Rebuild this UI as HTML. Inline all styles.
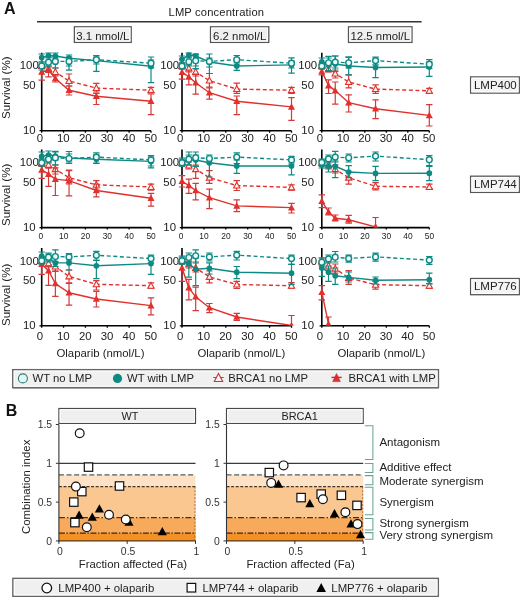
<!DOCTYPE html>
<html><head><meta charset="utf-8"><style>
html,body{margin:0;padding:0;background:#fff;}
svg{display:block;}
text{font-family:"Liberation Sans", Arial, sans-serif;}
</style></head><body>
<svg width="520" height="597" viewBox="0 0 520 597">
<rect width="520" height="597" fill="#fff"/>
<text x="4" y="14.4" font-size="16" font-weight="bold" fill="#111">A</text>
<text x="216.35" y="15.8" font-size="11.2" letter-spacing="0.15" text-anchor="middle" fill="#222">LMP concentration</text>
<line x1="37" y1="21.8" x2="421.6" y2="21.8" stroke="#333" stroke-width="1.4"/>
<rect x="74.4" y="26.8" width="56.80" height="15.60" fill="#efefef" stroke="#555" stroke-width="1.3"/>
<rect x="75.65" y="28.05" width="54.30" height="13.10" fill="none" stroke="#fff" stroke-width="1"/>
<text x="102.80" y="39.5" font-size="11.4" text-anchor="middle" fill="#222">3.1 nmol/L</text>
<rect x="210.5" y="26.8" width="58.30" height="15.60" fill="#efefef" stroke="#555" stroke-width="1.3"/>
<rect x="211.75" y="28.05" width="55.80" height="13.10" fill="none" stroke="#fff" stroke-width="1"/>
<text x="239.65" y="39.5" font-size="11.4" text-anchor="middle" fill="#222">6.2 nmol/L</text>
<rect x="348.5" y="26.8" width="63.50" height="15.60" fill="#efefef" stroke="#555" stroke-width="1.3"/>
<rect x="349.75" y="28.05" width="61.00" height="13.10" fill="none" stroke="#fff" stroke-width="1"/>
<text x="380.25" y="39.5" font-size="11.4" text-anchor="middle" fill="#222">12.5 nmol/L</text>
<rect x="470.6" y="76.9" width="48.70" height="16.20" fill="#f4f4f4" stroke="#555" stroke-width="1.3"/>
<rect x="471.85" y="78.15" width="46.20" height="13.70" fill="none" stroke="#fff" stroke-width="1"/>
<text x="495.35" y="88.80" font-size="11.5" text-anchor="middle" fill="#222">LMP400</text>
<rect x="470.6" y="176.2" width="48.70" height="16.20" fill="#f4f4f4" stroke="#555" stroke-width="1.3"/>
<rect x="471.85" y="177.45" width="46.20" height="13.70" fill="none" stroke="#fff" stroke-width="1"/>
<text x="495.35" y="188.10" font-size="11.5" text-anchor="middle" fill="#222">LMP744</text>
<rect x="470.6" y="278.5" width="48.70" height="16.20" fill="#f4f4f4" stroke="#555" stroke-width="1.3"/>
<rect x="471.85" y="279.75" width="46.20" height="13.70" fill="none" stroke="#fff" stroke-width="1"/>
<text x="495.35" y="290.40" font-size="11.5" text-anchor="middle" fill="#222">LMP776</text>
<clipPath id="cp00"><rect x="35.7" y="46.7" width="121.3" height="83.99999999999999"/></clipPath>
<path d="M41.70,52.70V130.70H151.00" stroke="#000" stroke-width="1.6" fill="none"/>
<path d="M41.70,130.70v2M63.56,130.70v2M85.42,130.70v2M107.28,130.70v2M129.14,130.70v2M151.00,130.70v2" stroke="#000" stroke-width="1.3"/>
<path d="M39.50,65.20h2.2M39.50,130.70h2.2" stroke="#000" stroke-width="1.2"/>
<text x="29.30" y="69.20" font-size="11.4" text-anchor="middle" fill="#222">100</text>
<text x="29.30" y="88.92" font-size="11.4" text-anchor="middle" fill="#222">50</text>
<text x="29.30" y="134.10" font-size="11.4" text-anchor="middle" fill="#222">10</text>
<text x="39.80" y="141.70" font-size="11.4" text-anchor="middle" fill="#222">0</text>
<text x="63.36" y="141.70" font-size="11.4" text-anchor="middle" fill="#222">10</text>
<text x="85.22" y="141.70" font-size="11.4" text-anchor="middle" fill="#222">20</text>
<text x="107.08" y="141.70" font-size="11.4" text-anchor="middle" fill="#222">30</text>
<text x="128.94" y="141.70" font-size="11.4" text-anchor="middle" fill="#222">40</text>
<text x="150.80" y="141.70" font-size="11.4" text-anchor="middle" fill="#222">50</text>
<g clip-path="url(#cp00)">
<polyline points="41.70,66.00 48.53,69.00 55.36,72.00 69.03,81.00 96.35,88.10 151.00,90.20" fill="none" stroke="#e2302c" stroke-width="1.4" stroke-dasharray="4,2.6"/>
<path d="M41.70,64.00V68.00M38.50,64.00H44.90M38.50,68.00H44.90" stroke="#d23a3a" stroke-width="1.2" fill="none"/>
<path d="M48.53,66.00V72.00M45.33,66.00H51.73M45.33,72.00H51.73" stroke="#d23a3a" stroke-width="1.2" fill="none"/>
<path d="M55.36,68.00V76.00M52.16,68.00H58.56M52.16,76.00H58.56" stroke="#d23a3a" stroke-width="1.2" fill="none"/>
<path d="M69.03,74.00V86.00M65.83,74.00H72.23M65.83,86.00H72.23" stroke="#d23a3a" stroke-width="1.2" fill="none"/>
<path d="M96.35,83.40V92.00M93.15,83.40H99.55M93.15,92.00H99.55" stroke="#d23a3a" stroke-width="1.2" fill="none"/>
<path d="M151.00,87.40V92.60M147.80,87.40H154.20M147.80,92.60H154.20" stroke="#d23a3a" stroke-width="1.2" fill="none"/>
<polygon points="41.70,62.70 44.84,68.47 38.57,68.47" fill="#fff4f0" stroke="#e2302c" stroke-width="1.1"/>
<polygon points="48.53,65.70 51.67,71.47 45.40,71.47" fill="#fff4f0" stroke="#e2302c" stroke-width="1.1"/>
<polygon points="55.36,68.70 58.50,74.47 52.23,74.47" fill="#fff4f0" stroke="#e2302c" stroke-width="1.1"/>
<polygon points="69.03,77.70 72.16,83.47 65.89,83.47" fill="#fff4f0" stroke="#e2302c" stroke-width="1.1"/>
<polygon points="96.35,84.80 99.48,90.57 93.21,90.57" fill="#fff4f0" stroke="#e2302c" stroke-width="1.1"/>
<polygon points="151.00,86.90 154.13,92.67 147.87,92.67" fill="#fff4f0" stroke="#e2302c" stroke-width="1.1"/>
<polyline points="41.70,72.00 48.53,70.20 55.36,78.50 69.03,90.30 96.35,96.20 151.00,101.20" fill="none" stroke="#e2302c" stroke-width="1.4"/>
<path d="M41.70,66.00V80.20M38.50,66.00H44.90M38.50,80.20H44.90" stroke="#d23a3a" stroke-width="1.2" fill="none"/>
<path d="M48.53,66.00V76.90M45.33,66.00H51.73M45.33,76.90H51.73" stroke="#d23a3a" stroke-width="1.2" fill="none"/>
<path d="M55.36,75.00V82.00M52.16,75.00H58.56M52.16,82.00H58.56" stroke="#d23a3a" stroke-width="1.2" fill="none"/>
<path d="M69.03,86.00V95.00M65.83,86.00H72.23M65.83,95.00H72.23" stroke="#d23a3a" stroke-width="1.2" fill="none"/>
<path d="M96.35,93.40V104.50M93.15,93.40H99.55M93.15,104.50H99.55" stroke="#d23a3a" stroke-width="1.2" fill="none"/>
<path d="M151.00,94.00V114.70M147.80,94.00H154.20M147.80,114.70H154.20" stroke="#d23a3a" stroke-width="1.2" fill="none"/>
<polygon points="41.70,68.30 45.22,74.78 38.19,74.78" fill="#e2302c"/>
<polygon points="48.53,66.50 52.05,72.98 45.02,72.98" fill="#e2302c"/>
<polygon points="55.36,74.80 58.88,81.28 51.85,81.28" fill="#e2302c"/>
<polygon points="69.03,86.60 72.54,93.08 65.51,93.08" fill="#e2302c"/>
<polygon points="96.35,92.50 99.86,98.98 92.83,98.98" fill="#e2302c"/>
<polygon points="151.00,97.50 154.51,103.98 147.49,103.98" fill="#e2302c"/>
<polyline points="41.70,57.60 48.53,55.50 55.36,56.00 69.03,58.20 96.35,60.60 151.00,66.30" fill="none" stroke="#0e8a84" stroke-width="1.4"/>
<path d="M41.70,54.00V62.00M38.50,54.00H44.90M38.50,62.00H44.90" stroke="#0e8a84" stroke-width="1.2" fill="none"/>
<path d="M48.53,53.00V58.00M45.33,53.00H51.73M45.33,58.00H51.73" stroke="#0e8a84" stroke-width="1.2" fill="none"/>
<path d="M55.36,53.00V58.00M52.16,53.00H58.56M52.16,58.00H58.56" stroke="#0e8a84" stroke-width="1.2" fill="none"/>
<path d="M69.03,55.00V70.20M65.83,55.00H72.23M65.83,70.20H72.23" stroke="#0e8a84" stroke-width="1.2" fill="none"/>
<path d="M96.35,57.00V71.30M93.15,57.00H99.55M93.15,71.30H99.55" stroke="#0e8a84" stroke-width="1.2" fill="none"/>
<path d="M151.00,60.00V82.70M147.80,60.00H154.20M147.80,82.70H154.20" stroke="#0e8a84" stroke-width="1.2" fill="none"/>
<circle cx="41.70" cy="57.60" r="2.85" fill="#0e8a84"/>
<circle cx="48.53" cy="55.50" r="2.85" fill="#0e8a84"/>
<circle cx="55.36" cy="56.00" r="2.85" fill="#0e8a84"/>
<circle cx="69.03" cy="58.20" r="2.85" fill="#0e8a84"/>
<circle cx="96.35" cy="60.60" r="2.85" fill="#0e8a84"/>
<circle cx="151.00" cy="66.30" r="2.85" fill="#0e8a84"/>
<polyline points="41.70,66.00 48.53,62.20 55.36,61.40 69.03,61.40 96.35,59.70 151.00,63.20" fill="none" stroke="#0e8a84" stroke-width="1.4" stroke-dasharray="4,2.6"/>
<path d="M41.70,62.00V70.00M38.50,62.00H44.90M38.50,70.00H44.90" stroke="#0e8a84" stroke-width="1.2" fill="none"/>
<path d="M48.53,57.00V67.00M45.33,57.00H51.73M45.33,67.00H51.73" stroke="#0e8a84" stroke-width="1.2" fill="none"/>
<path d="M55.36,56.00V68.00M52.16,56.00H58.56M52.16,68.00H58.56" stroke="#0e8a84" stroke-width="1.2" fill="none"/>
<path d="M69.03,57.00V66.00M65.83,57.00H72.23M65.83,66.00H72.23" stroke="#0e8a84" stroke-width="1.2" fill="none"/>
<path d="M96.35,55.50V64.00M93.15,55.50H99.55M93.15,64.00H99.55" stroke="#0e8a84" stroke-width="1.2" fill="none"/>
<path d="M151.00,57.00V68.00M147.80,57.00H154.20M147.80,68.00H154.20" stroke="#0e8a84" stroke-width="1.2" fill="none"/>
<circle cx="41.70" cy="66.00" r="2.9" fill="#eefbfa" stroke="#0e8a84" stroke-width="1.4"/>
<circle cx="48.53" cy="62.20" r="2.9" fill="#eefbfa" stroke="#0e8a84" stroke-width="1.4"/>
<circle cx="55.36" cy="61.40" r="2.9" fill="#eefbfa" stroke="#0e8a84" stroke-width="1.4"/>
<circle cx="69.03" cy="61.40" r="2.9" fill="#eefbfa" stroke="#0e8a84" stroke-width="1.4"/>
<circle cx="96.35" cy="59.70" r="2.9" fill="#eefbfa" stroke="#0e8a84" stroke-width="1.4"/>
<circle cx="151.00" cy="63.20" r="2.9" fill="#eefbfa" stroke="#0e8a84" stroke-width="1.4"/>
</g>
<clipPath id="cp01"><rect x="176.0" y="46.7" width="121.5" height="83.99999999999999"/></clipPath>
<path d="M182.00,52.70V130.70H291.50" stroke="#000" stroke-width="1.6" fill="none"/>
<path d="M182.00,130.70v2M203.90,130.70v2M225.80,130.70v2M247.70,130.70v2M269.60,130.70v2M291.50,130.70v2" stroke="#000" stroke-width="1.3"/>
<path d="M179.80,65.20h2.2M179.80,130.70h2.2" stroke="#000" stroke-width="1.2"/>
<text x="169.70" y="69.20" font-size="11.4" text-anchor="middle" fill="#222">100</text>
<text x="169.70" y="88.92" font-size="11.4" text-anchor="middle" fill="#222">50</text>
<text x="169.70" y="134.10" font-size="11.4" text-anchor="middle" fill="#222">10</text>
<text x="180.10" y="141.70" font-size="11.4" text-anchor="middle" fill="#222">0</text>
<text x="203.70" y="141.70" font-size="11.4" text-anchor="middle" fill="#222">10</text>
<text x="225.60" y="141.70" font-size="11.4" text-anchor="middle" fill="#222">20</text>
<text x="247.50" y="141.70" font-size="11.4" text-anchor="middle" fill="#222">30</text>
<text x="269.40" y="141.70" font-size="11.4" text-anchor="middle" fill="#222">40</text>
<text x="291.30" y="141.70" font-size="11.4" text-anchor="middle" fill="#222">50</text>
<g clip-path="url(#cp01)">
<polyline points="182.00,66.00 188.84,68.50 195.69,72.10 209.38,80.60 236.75,89.10 291.50,90.20" fill="none" stroke="#e2302c" stroke-width="1.4" stroke-dasharray="4,2.6"/>
<path d="M182.00,63.00V69.00M178.80,63.00H185.20M178.80,69.00H185.20" stroke="#d23a3a" stroke-width="1.2" fill="none"/>
<path d="M188.84,65.00V72.00M185.64,65.00H192.04M185.64,72.00H192.04" stroke="#d23a3a" stroke-width="1.2" fill="none"/>
<path d="M195.69,69.00V76.00M192.49,69.00H198.89M192.49,76.00H198.89" stroke="#d23a3a" stroke-width="1.2" fill="none"/>
<path d="M209.38,73.50V87.80M206.18,73.50H212.57M206.18,87.80H212.57" stroke="#d23a3a" stroke-width="1.2" fill="none"/>
<path d="M236.75,83.10V93.40M233.55,83.10H239.95M233.55,93.40H239.95" stroke="#d23a3a" stroke-width="1.2" fill="none"/>
<path d="M291.50,87.40V93.40M288.30,87.40H294.70M288.30,93.40H294.70" stroke="#d23a3a" stroke-width="1.2" fill="none"/>
<polygon points="182.00,62.70 185.13,68.47 178.87,68.47" fill="#fff4f0" stroke="#e2302c" stroke-width="1.1"/>
<polygon points="188.84,65.20 191.98,70.97 185.71,70.97" fill="#fff4f0" stroke="#e2302c" stroke-width="1.1"/>
<polygon points="195.69,68.80 198.82,74.57 192.55,74.57" fill="#fff4f0" stroke="#e2302c" stroke-width="1.1"/>
<polygon points="209.38,77.30 212.51,83.07 206.24,83.07" fill="#fff4f0" stroke="#e2302c" stroke-width="1.1"/>
<polygon points="236.75,85.80 239.88,91.57 233.62,91.57" fill="#fff4f0" stroke="#e2302c" stroke-width="1.1"/>
<polygon points="291.50,86.90 294.63,92.67 288.37,92.67" fill="#fff4f0" stroke="#e2302c" stroke-width="1.1"/>
<polyline points="182.00,72.10 188.84,77.00 195.69,82.80 209.38,92.70 236.75,101.20 291.50,106.90" fill="none" stroke="#e2302c" stroke-width="1.4"/>
<path d="M182.00,68.00V79.20M178.80,68.00H185.20M178.80,79.20H185.20" stroke="#d23a3a" stroke-width="1.2" fill="none"/>
<path d="M188.84,70.00V84.90M185.64,70.00H192.04M185.64,84.90H192.04" stroke="#d23a3a" stroke-width="1.2" fill="none"/>
<path d="M195.69,74.00V94.20M192.49,74.00H198.89M192.49,94.20H198.89" stroke="#d23a3a" stroke-width="1.2" fill="none"/>
<path d="M209.38,87.00V99.20M206.18,87.00H212.57M206.18,99.20H212.57" stroke="#d23a3a" stroke-width="1.2" fill="none"/>
<path d="M236.75,96.00V114.70M233.55,96.00H239.95M233.55,114.70H239.95" stroke="#d23a3a" stroke-width="1.2" fill="none"/>
<path d="M291.50,97.60V120.40M288.30,97.60H294.70M288.30,120.40H294.70" stroke="#d23a3a" stroke-width="1.2" fill="none"/>
<polygon points="182.00,68.40 185.51,74.88 178.49,74.88" fill="#e2302c"/>
<polygon points="188.84,73.30 192.36,79.78 185.33,79.78" fill="#e2302c"/>
<polygon points="195.69,79.10 199.20,85.58 192.17,85.58" fill="#e2302c"/>
<polygon points="209.38,89.00 212.89,95.48 205.86,95.48" fill="#e2302c"/>
<polygon points="236.75,97.50 240.26,103.98 233.24,103.98" fill="#e2302c"/>
<polygon points="291.50,103.20 295.01,109.68 287.99,109.68" fill="#e2302c"/>
<polyline points="182.00,59.30 188.84,55.00 195.69,56.00 209.38,62.00 236.75,66.00 291.50,64.90" fill="none" stroke="#0e8a84" stroke-width="1.4"/>
<path d="M182.00,56.00V63.00M178.80,56.00H185.20M178.80,63.00H185.20" stroke="#0e8a84" stroke-width="1.2" fill="none"/>
<path d="M188.84,53.00V58.00M185.64,53.00H192.04M185.64,58.00H192.04" stroke="#0e8a84" stroke-width="1.2" fill="none"/>
<path d="M195.69,54.00V68.50M192.49,54.00H198.89M192.49,68.50H198.89" stroke="#0e8a84" stroke-width="1.2" fill="none"/>
<path d="M209.38,58.00V73.50M206.18,58.00H212.57M206.18,73.50H212.57" stroke="#0e8a84" stroke-width="1.2" fill="none"/>
<path d="M236.75,62.00V70.30M233.55,62.00H239.95M233.55,70.30H239.95" stroke="#0e8a84" stroke-width="1.2" fill="none"/>
<path d="M291.50,61.00V73.20M288.30,61.00H294.70M288.30,73.20H294.70" stroke="#0e8a84" stroke-width="1.2" fill="none"/>
<circle cx="182.00" cy="59.30" r="2.85" fill="#0e8a84"/>
<circle cx="188.84" cy="55.00" r="2.85" fill="#0e8a84"/>
<circle cx="195.69" cy="56.00" r="2.85" fill="#0e8a84"/>
<circle cx="209.38" cy="62.00" r="2.85" fill="#0e8a84"/>
<circle cx="236.75" cy="66.00" r="2.85" fill="#0e8a84"/>
<circle cx="291.50" cy="64.90" r="2.85" fill="#0e8a84"/>
<polyline points="182.00,66.10 188.84,61.80 195.69,60.70 209.38,61.40 236.75,59.70 291.50,63.20" fill="none" stroke="#0e8a84" stroke-width="1.4" stroke-dasharray="4,2.6"/>
<path d="M182.00,63.00V69.00M178.80,63.00H185.20M178.80,69.00H185.20" stroke="#0e8a84" stroke-width="1.2" fill="none"/>
<path d="M188.84,57.00V66.00M185.64,57.00H192.04M185.64,66.00H192.04" stroke="#0e8a84" stroke-width="1.2" fill="none"/>
<path d="M195.69,54.30V66.00M192.49,54.30H198.89M192.49,66.00H198.89" stroke="#0e8a84" stroke-width="1.2" fill="none"/>
<path d="M209.38,54.00V67.00M206.18,54.00H212.57M206.18,67.00H212.57" stroke="#0e8a84" stroke-width="1.2" fill="none"/>
<path d="M236.75,55.50V64.00M233.55,55.50H239.95M233.55,64.00H239.95" stroke="#0e8a84" stroke-width="1.2" fill="none"/>
<path d="M291.50,57.80V68.00M288.30,57.80H294.70M288.30,68.00H294.70" stroke="#0e8a84" stroke-width="1.2" fill="none"/>
<circle cx="182.00" cy="66.10" r="2.9" fill="#eefbfa" stroke="#0e8a84" stroke-width="1.4"/>
<circle cx="188.84" cy="61.80" r="2.9" fill="#eefbfa" stroke="#0e8a84" stroke-width="1.4"/>
<circle cx="195.69" cy="60.70" r="2.9" fill="#eefbfa" stroke="#0e8a84" stroke-width="1.4"/>
<circle cx="209.38" cy="61.40" r="2.9" fill="#eefbfa" stroke="#0e8a84" stroke-width="1.4"/>
<circle cx="236.75" cy="59.70" r="2.9" fill="#eefbfa" stroke="#0e8a84" stroke-width="1.4"/>
<circle cx="291.50" cy="63.20" r="2.9" fill="#eefbfa" stroke="#0e8a84" stroke-width="1.4"/>
</g>
<clipPath id="cp02"><rect x="315.8" y="46.7" width="119.5" height="83.99999999999999"/></clipPath>
<path d="M321.80,52.70V130.70H429.30" stroke="#000" stroke-width="1.6" fill="none"/>
<path d="M321.80,130.70v2M343.30,130.70v2M364.80,130.70v2M386.30,130.70v2M407.80,130.70v2M429.30,130.70v2" stroke="#000" stroke-width="1.3"/>
<path d="M319.60,65.20h2.2M319.60,130.70h2.2" stroke="#000" stroke-width="1.2"/>
<text x="307.70" y="69.20" font-size="11.4" text-anchor="middle" fill="#222">100</text>
<text x="307.70" y="88.92" font-size="11.4" text-anchor="middle" fill="#222">50</text>
<text x="307.70" y="134.10" font-size="11.4" text-anchor="middle" fill="#222">10</text>
<text x="319.90" y="141.70" font-size="11.4" text-anchor="middle" fill="#222">0</text>
<text x="343.10" y="141.70" font-size="11.4" text-anchor="middle" fill="#222">10</text>
<text x="364.60" y="141.70" font-size="11.4" text-anchor="middle" fill="#222">20</text>
<text x="386.10" y="141.70" font-size="11.4" text-anchor="middle" fill="#222">30</text>
<text x="407.60" y="141.70" font-size="11.4" text-anchor="middle" fill="#222">40</text>
<text x="429.10" y="141.70" font-size="11.4" text-anchor="middle" fill="#222">50</text>
<g clip-path="url(#cp02)">
<polyline points="321.80,66.00 328.52,69.20 335.24,73.50 348.68,82.00 375.55,89.10 429.30,90.80" fill="none" stroke="#e2302c" stroke-width="1.4" stroke-dasharray="4,2.6"/>
<path d="M321.80,64.00V69.00M318.60,64.00H325.00M318.60,69.00H325.00" stroke="#d23a3a" stroke-width="1.2" fill="none"/>
<path d="M328.52,66.00V72.00M325.32,66.00H331.72M325.32,72.00H331.72" stroke="#d23a3a" stroke-width="1.2" fill="none"/>
<path d="M335.24,70.00V78.00M332.04,70.00H338.44M332.04,78.00H338.44" stroke="#d23a3a" stroke-width="1.2" fill="none"/>
<path d="M348.68,74.90V87.80M345.48,74.90H351.88M345.48,87.80H351.88" stroke="#d23a3a" stroke-width="1.2" fill="none"/>
<path d="M375.55,84.80V93.40M372.35,84.80H378.75M372.35,93.40H378.75" stroke="#d23a3a" stroke-width="1.2" fill="none"/>
<path d="M429.30,88.40V93.40M426.10,88.40H432.50M426.10,93.40H432.50" stroke="#d23a3a" stroke-width="1.2" fill="none"/>
<polygon points="321.80,62.70 324.94,68.47 318.67,68.47" fill="#fff4f0" stroke="#e2302c" stroke-width="1.1"/>
<polygon points="328.52,65.90 331.65,71.67 325.38,71.67" fill="#fff4f0" stroke="#e2302c" stroke-width="1.1"/>
<polygon points="335.24,70.20 338.37,75.97 332.10,75.97" fill="#fff4f0" stroke="#e2302c" stroke-width="1.1"/>
<polygon points="348.68,78.70 351.81,84.47 345.54,84.47" fill="#fff4f0" stroke="#e2302c" stroke-width="1.1"/>
<polygon points="375.55,85.80 378.69,91.57 372.42,91.57" fill="#fff4f0" stroke="#e2302c" stroke-width="1.1"/>
<polygon points="429.30,87.50 432.44,93.27 426.17,93.27" fill="#fff4f0" stroke="#e2302c" stroke-width="1.1"/>
<polyline points="321.80,71.40 328.52,85.60 335.24,90.60 348.68,102.70 375.55,108.70 429.30,115.40" fill="none" stroke="#e2302c" stroke-width="1.4"/>
<path d="M321.80,68.00V75.00M318.60,68.00H325.00M318.60,75.00H325.00" stroke="#d23a3a" stroke-width="1.2" fill="none"/>
<path d="M328.52,79.90V93.50M325.32,79.90H331.72M325.32,93.50H331.72" stroke="#d23a3a" stroke-width="1.2" fill="none"/>
<path d="M335.24,82.00V104.10M332.04,82.00H338.44M332.04,104.10H338.44" stroke="#d23a3a" stroke-width="1.2" fill="none"/>
<path d="M348.68,94.90V112.00M345.48,94.90H351.88M345.48,112.00H351.88" stroke="#d23a3a" stroke-width="1.2" fill="none"/>
<path d="M375.55,99.80V118.70M372.35,99.80H378.75M372.35,118.70H378.75" stroke="#d23a3a" stroke-width="1.2" fill="none"/>
<path d="M429.30,104.70V126.00M426.10,104.70H432.50M426.10,126.00H432.50" stroke="#d23a3a" stroke-width="1.2" fill="none"/>
<polygon points="321.80,67.70 325.31,74.18 318.29,74.18" fill="#e2302c"/>
<polygon points="328.52,81.90 332.03,88.38 325.00,88.38" fill="#e2302c"/>
<polygon points="335.24,86.90 338.75,93.38 331.72,93.38" fill="#e2302c"/>
<polygon points="348.68,99.00 352.19,105.48 345.16,105.48" fill="#e2302c"/>
<polygon points="375.55,105.00 379.06,111.48 372.04,111.48" fill="#e2302c"/>
<polygon points="429.30,111.70 432.81,118.18 425.79,118.18" fill="#e2302c"/>
<polyline points="321.80,61.80 328.52,64.00 335.24,64.00 348.68,66.00 375.55,67.50 429.30,67.00" fill="none" stroke="#0e8a84" stroke-width="1.4"/>
<path d="M321.80,58.00V65.00M318.60,58.00H325.00M318.60,65.00H325.00" stroke="#0e8a84" stroke-width="1.2" fill="none"/>
<path d="M328.52,56.40V70.60M325.32,56.40H331.72M325.32,70.60H331.72" stroke="#0e8a84" stroke-width="1.2" fill="none"/>
<path d="M335.24,56.00V71.40M332.04,56.00H338.44M332.04,71.40H338.44" stroke="#0e8a84" stroke-width="1.2" fill="none"/>
<path d="M348.68,57.10V74.90M345.48,57.10H351.88M345.48,74.90H351.88" stroke="#0e8a84" stroke-width="1.2" fill="none"/>
<path d="M375.55,62.00V77.70M372.35,62.00H378.75M372.35,77.70H378.75" stroke="#0e8a84" stroke-width="1.2" fill="none"/>
<path d="M429.30,62.00V76.30M426.10,62.00H432.50M426.10,76.30H432.50" stroke="#0e8a84" stroke-width="1.2" fill="none"/>
<circle cx="321.80" cy="61.80" r="2.85" fill="#0e8a84"/>
<circle cx="328.52" cy="64.00" r="2.85" fill="#0e8a84"/>
<circle cx="335.24" cy="64.00" r="2.85" fill="#0e8a84"/>
<circle cx="348.68" cy="66.00" r="2.85" fill="#0e8a84"/>
<circle cx="375.55" cy="67.50" r="2.85" fill="#0e8a84"/>
<circle cx="429.30" cy="67.00" r="2.85" fill="#0e8a84"/>
<polyline points="321.80,66.10 328.52,62.80 335.24,62.10 348.68,62.80 375.55,60.60 429.30,64.20" fill="none" stroke="#0e8a84" stroke-width="1.4" stroke-dasharray="4,2.6"/>
<path d="M321.80,63.00V69.00M318.60,63.00H325.00M318.60,69.00H325.00" stroke="#0e8a84" stroke-width="1.2" fill="none"/>
<path d="M328.52,58.00V67.00M325.32,58.00H331.72M325.32,67.00H331.72" stroke="#0e8a84" stroke-width="1.2" fill="none"/>
<path d="M335.24,56.00V68.00M332.04,56.00H338.44M332.04,68.00H338.44" stroke="#0e8a84" stroke-width="1.2" fill="none"/>
<path d="M348.68,57.10V68.00M345.48,57.10H351.88M345.48,68.00H351.88" stroke="#0e8a84" stroke-width="1.2" fill="none"/>
<path d="M375.55,57.10V64.90M372.35,57.10H378.75M372.35,64.90H378.75" stroke="#0e8a84" stroke-width="1.2" fill="none"/>
<path d="M429.30,59.70V68.50M426.10,59.70H432.50M426.10,68.50H432.50" stroke="#0e8a84" stroke-width="1.2" fill="none"/>
<circle cx="321.80" cy="66.10" r="2.9" fill="#eefbfa" stroke="#0e8a84" stroke-width="1.4"/>
<circle cx="328.52" cy="62.80" r="2.9" fill="#eefbfa" stroke="#0e8a84" stroke-width="1.4"/>
<circle cx="335.24" cy="62.10" r="2.9" fill="#eefbfa" stroke="#0e8a84" stroke-width="1.4"/>
<circle cx="348.68" cy="62.80" r="2.9" fill="#eefbfa" stroke="#0e8a84" stroke-width="1.4"/>
<circle cx="375.55" cy="60.60" r="2.9" fill="#eefbfa" stroke="#0e8a84" stroke-width="1.4"/>
<circle cx="429.30" cy="64.20" r="2.9" fill="#eefbfa" stroke="#0e8a84" stroke-width="1.4"/>
</g>
<text transform="translate(9.6,87.65) rotate(-90)" font-size="11.6" text-anchor="middle" fill="#222">Survival (%)</text>
<clipPath id="cp10"><rect x="35.7" y="143.5" width="121.3" height="84.1"/></clipPath>
<path d="M41.70,149.50V227.60H151.00" stroke="#000" stroke-width="1.6" fill="none"/>
<path d="M41.70,227.60v2M63.56,227.60v2M85.42,227.60v2M107.28,227.60v2M129.14,227.60v2M151.00,227.60v2" stroke="#000" stroke-width="1.3"/>
<path d="M39.50,162.20h2.2M39.50,227.60h2.2" stroke="#000" stroke-width="1.2"/>
<text x="29.30" y="166.20" font-size="11.4" text-anchor="middle" fill="#222">100</text>
<text x="29.30" y="185.89" font-size="11.4" text-anchor="middle" fill="#222">50</text>
<text x="29.30" y="231.00" font-size="11.4" text-anchor="middle" fill="#222">10</text>
<text x="40.90" y="239.10" font-size="8.4" text-anchor="middle" fill="#222">0</text>
<text x="63.66" y="239.10" font-size="8.4" text-anchor="middle" fill="#222">10</text>
<text x="85.52" y="239.10" font-size="8.4" text-anchor="middle" fill="#222">20</text>
<text x="107.38" y="239.10" font-size="8.4" text-anchor="middle" fill="#222">30</text>
<text x="129.24" y="239.10" font-size="8.4" text-anchor="middle" fill="#222">40</text>
<text x="151.10" y="239.10" font-size="8.4" text-anchor="middle" fill="#222">50</text>
<g clip-path="url(#cp10)">
<polyline points="41.70,163.00 48.53,164.90 55.36,169.20 69.03,177.70 96.35,184.80 151.00,187.00" fill="none" stroke="#e2302c" stroke-width="1.4" stroke-dasharray="4,2.6"/>
<path d="M41.70,160.00V166.00M38.50,160.00H44.90M38.50,166.00H44.90" stroke="#d23a3a" stroke-width="1.2" fill="none"/>
<path d="M48.53,162.00V168.00M45.33,162.00H51.73M45.33,168.00H51.73" stroke="#d23a3a" stroke-width="1.2" fill="none"/>
<path d="M55.36,165.00V174.00M52.16,165.00H58.56M52.16,174.00H58.56" stroke="#d23a3a" stroke-width="1.2" fill="none"/>
<path d="M69.03,170.60V184.00M65.83,170.60H72.23M65.83,184.00H72.23" stroke="#d23a3a" stroke-width="1.2" fill="none"/>
<path d="M96.35,180.60V189.00M93.15,180.60H99.55M93.15,189.00H99.55" stroke="#d23a3a" stroke-width="1.2" fill="none"/>
<path d="M151.00,184.10V190.20M147.80,184.10H154.20M147.80,190.20H154.20" stroke="#d23a3a" stroke-width="1.2" fill="none"/>
<polygon points="41.70,159.70 44.84,165.47 38.57,165.47" fill="#fff4f0" stroke="#e2302c" stroke-width="1.1"/>
<polygon points="48.53,161.60 51.67,167.38 45.40,167.38" fill="#fff4f0" stroke="#e2302c" stroke-width="1.1"/>
<polygon points="55.36,165.90 58.50,171.67 52.23,171.67" fill="#fff4f0" stroke="#e2302c" stroke-width="1.1"/>
<polygon points="69.03,174.40 72.16,180.17 65.89,180.17" fill="#fff4f0" stroke="#e2302c" stroke-width="1.1"/>
<polygon points="96.35,181.50 99.48,187.28 93.21,187.28" fill="#fff4f0" stroke="#e2302c" stroke-width="1.1"/>
<polygon points="151.00,183.70 154.13,189.47 147.87,189.47" fill="#fff4f0" stroke="#e2302c" stroke-width="1.1"/>
<polyline points="41.70,169.90 48.53,174.20 55.36,179.10 69.03,180.60 96.35,190.50 151.00,198.30" fill="none" stroke="#e2302c" stroke-width="1.4"/>
<path d="M41.70,166.30V178.40M38.50,166.30H44.90M38.50,178.40H44.90" stroke="#d23a3a" stroke-width="1.2" fill="none"/>
<path d="M48.53,167.80V186.30M45.33,167.80H51.73M45.33,186.30H51.73" stroke="#d23a3a" stroke-width="1.2" fill="none"/>
<path d="M55.36,167.80V195.50M52.16,167.80H58.56M52.16,195.50H58.56" stroke="#d23a3a" stroke-width="1.2" fill="none"/>
<path d="M69.03,170.00V195.90M65.83,170.00H72.23M65.83,195.90H72.23" stroke="#d23a3a" stroke-width="1.2" fill="none"/>
<path d="M96.35,184.00V196.90M93.15,184.00H99.55M93.15,196.90H99.55" stroke="#d23a3a" stroke-width="1.2" fill="none"/>
<path d="M151.00,193.40V206.20M147.80,193.40H154.20M147.80,206.20H154.20" stroke="#d23a3a" stroke-width="1.2" fill="none"/>
<polygon points="41.70,166.20 45.22,172.68 38.19,172.68" fill="#e2302c"/>
<polygon points="48.53,170.50 52.05,176.97 45.02,176.97" fill="#e2302c"/>
<polygon points="55.36,175.40 58.88,181.88 51.85,181.88" fill="#e2302c"/>
<polygon points="69.03,176.90 72.54,183.38 65.51,183.38" fill="#e2302c"/>
<polygon points="96.35,186.80 99.86,193.28 92.83,193.28" fill="#e2302c"/>
<polygon points="151.00,194.60 154.51,201.08 147.49,201.08" fill="#e2302c"/>
<polyline points="41.70,156.40 48.53,155.00 55.36,156.00 69.03,158.00 96.35,159.20 151.00,161.40" fill="none" stroke="#0e8a84" stroke-width="1.4"/>
<path d="M41.70,152.00V160.00M38.50,152.00H44.90M38.50,160.00H44.90" stroke="#0e8a84" stroke-width="1.2" fill="none"/>
<path d="M48.53,151.00V158.00M45.33,151.00H51.73M45.33,158.00H51.73" stroke="#0e8a84" stroke-width="1.2" fill="none"/>
<path d="M55.36,152.00V160.00M52.16,152.00H58.56M52.16,160.00H58.56" stroke="#0e8a84" stroke-width="1.2" fill="none"/>
<path d="M69.03,154.00V162.00M65.83,154.00H72.23M65.83,162.00H72.23" stroke="#0e8a84" stroke-width="1.2" fill="none"/>
<path d="M96.35,155.00V163.00M93.15,155.00H99.55M93.15,163.00H99.55" stroke="#0e8a84" stroke-width="1.2" fill="none"/>
<path d="M151.00,157.00V166.00M147.80,157.00H154.20M147.80,166.00H154.20" stroke="#0e8a84" stroke-width="1.2" fill="none"/>
<circle cx="41.70" cy="156.40" r="2.85" fill="#0e8a84"/>
<circle cx="48.53" cy="155.00" r="2.85" fill="#0e8a84"/>
<circle cx="55.36" cy="156.00" r="2.85" fill="#0e8a84"/>
<circle cx="69.03" cy="158.00" r="2.85" fill="#0e8a84"/>
<circle cx="96.35" cy="159.20" r="2.85" fill="#0e8a84"/>
<circle cx="151.00" cy="161.40" r="2.85" fill="#0e8a84"/>
<polyline points="41.70,162.80 48.53,159.20 55.36,157.80 69.03,158.50 96.35,157.10 151.00,159.90" fill="none" stroke="#0e8a84" stroke-width="1.4" stroke-dasharray="4,2.6"/>
<path d="M41.70,159.00V166.00M38.50,159.00H44.90M38.50,166.00H44.90" stroke="#0e8a84" stroke-width="1.2" fill="none"/>
<path d="M48.53,155.00V163.00M45.33,155.00H51.73M45.33,163.00H51.73" stroke="#0e8a84" stroke-width="1.2" fill="none"/>
<path d="M55.36,151.40V164.90M52.16,151.40H58.56M52.16,164.90H58.56" stroke="#0e8a84" stroke-width="1.2" fill="none"/>
<path d="M69.03,151.50V163.50M65.83,151.50H72.23M65.83,163.50H72.23" stroke="#0e8a84" stroke-width="1.2" fill="none"/>
<path d="M96.35,152.80V163.50M93.15,152.80H99.55M93.15,163.50H99.55" stroke="#0e8a84" stroke-width="1.2" fill="none"/>
<path d="M151.00,155.70V167.80M147.80,155.70H154.20M147.80,167.80H154.20" stroke="#0e8a84" stroke-width="1.2" fill="none"/>
<circle cx="41.70" cy="162.80" r="2.9" fill="#eefbfa" stroke="#0e8a84" stroke-width="1.4"/>
<circle cx="48.53" cy="159.20" r="2.9" fill="#eefbfa" stroke="#0e8a84" stroke-width="1.4"/>
<circle cx="55.36" cy="157.80" r="2.9" fill="#eefbfa" stroke="#0e8a84" stroke-width="1.4"/>
<circle cx="69.03" cy="158.50" r="2.9" fill="#eefbfa" stroke="#0e8a84" stroke-width="1.4"/>
<circle cx="96.35" cy="157.10" r="2.9" fill="#eefbfa" stroke="#0e8a84" stroke-width="1.4"/>
<circle cx="151.00" cy="159.90" r="2.9" fill="#eefbfa" stroke="#0e8a84" stroke-width="1.4"/>
</g>
<clipPath id="cp11"><rect x="176.0" y="143.5" width="121.5" height="84.1"/></clipPath>
<path d="M182.00,149.50V227.60H291.50" stroke="#000" stroke-width="1.6" fill="none"/>
<path d="M182.00,227.60v2M203.90,227.60v2M225.80,227.60v2M247.70,227.60v2M269.60,227.60v2M291.50,227.60v2" stroke="#000" stroke-width="1.3"/>
<path d="M179.80,162.20h2.2M179.80,227.60h2.2" stroke="#000" stroke-width="1.2"/>
<text x="169.70" y="166.20" font-size="11.4" text-anchor="middle" fill="#222">100</text>
<text x="169.70" y="185.89" font-size="11.4" text-anchor="middle" fill="#222">50</text>
<text x="169.70" y="231.00" font-size="11.4" text-anchor="middle" fill="#222">10</text>
<text x="181.20" y="239.10" font-size="8.4" text-anchor="middle" fill="#222">0</text>
<text x="204.00" y="239.10" font-size="8.4" text-anchor="middle" fill="#222">10</text>
<text x="225.90" y="239.10" font-size="8.4" text-anchor="middle" fill="#222">20</text>
<text x="247.80" y="239.10" font-size="8.4" text-anchor="middle" fill="#222">30</text>
<text x="269.70" y="239.10" font-size="8.4" text-anchor="middle" fill="#222">40</text>
<text x="291.60" y="239.10" font-size="8.4" text-anchor="middle" fill="#222">50</text>
<g clip-path="url(#cp11)">
<polyline points="182.00,163.00 188.84,165.60 195.69,169.20 209.38,177.70 236.75,185.50 291.50,187.40" fill="none" stroke="#e2302c" stroke-width="1.4" stroke-dasharray="4,2.6"/>
<path d="M182.00,160.00V166.00M178.80,160.00H185.20M178.80,166.00H185.20" stroke="#d23a3a" stroke-width="1.2" fill="none"/>
<path d="M188.84,162.00V169.00M185.64,162.00H192.04M185.64,169.00H192.04" stroke="#d23a3a" stroke-width="1.2" fill="none"/>
<path d="M195.69,165.00V178.40M192.49,165.00H198.89M192.49,178.40H198.89" stroke="#d23a3a" stroke-width="1.2" fill="none"/>
<path d="M209.38,170.60V183.40M206.18,170.60H212.57M206.18,183.40H212.57" stroke="#d23a3a" stroke-width="1.2" fill="none"/>
<path d="M236.75,180.60V190.50M233.55,180.60H239.95M233.55,190.50H239.95" stroke="#d23a3a" stroke-width="1.2" fill="none"/>
<path d="M291.50,184.90V190.20M288.30,184.90H294.70M288.30,190.20H294.70" stroke="#d23a3a" stroke-width="1.2" fill="none"/>
<polygon points="182.00,159.70 185.13,165.47 178.87,165.47" fill="#fff4f0" stroke="#e2302c" stroke-width="1.1"/>
<polygon points="188.84,162.30 191.98,168.07 185.71,168.07" fill="#fff4f0" stroke="#e2302c" stroke-width="1.1"/>
<polygon points="195.69,165.90 198.82,171.67 192.55,171.67" fill="#fff4f0" stroke="#e2302c" stroke-width="1.1"/>
<polygon points="209.38,174.40 212.51,180.17 206.24,180.17" fill="#fff4f0" stroke="#e2302c" stroke-width="1.1"/>
<polygon points="236.75,182.20 239.88,187.97 233.62,187.97" fill="#fff4f0" stroke="#e2302c" stroke-width="1.1"/>
<polygon points="291.50,184.10 294.63,189.88 288.37,189.88" fill="#fff4f0" stroke="#e2302c" stroke-width="1.1"/>
<polyline points="182.00,181.30 188.84,185.50 195.69,190.50 209.38,197.60 236.75,205.90 291.50,207.60" fill="none" stroke="#e2302c" stroke-width="1.4"/>
<path d="M182.00,175.60V187.00M178.80,175.60H185.20M178.80,187.00H185.20" stroke="#d23a3a" stroke-width="1.2" fill="none"/>
<path d="M188.84,179.10V193.40M185.64,179.10H192.04M185.64,193.40H192.04" stroke="#d23a3a" stroke-width="1.2" fill="none"/>
<path d="M195.69,183.40V199.80M192.49,183.40H198.89M192.49,199.80H198.89" stroke="#d23a3a" stroke-width="1.2" fill="none"/>
<path d="M209.38,189.10V208.70M206.18,189.10H212.57M206.18,208.70H212.57" stroke="#d23a3a" stroke-width="1.2" fill="none"/>
<path d="M236.75,199.80V211.60M233.55,199.80H239.95M233.55,211.60H239.95" stroke="#d23a3a" stroke-width="1.2" fill="none"/>
<path d="M291.50,203.30V213.00M288.30,203.30H294.70M288.30,213.00H294.70" stroke="#d23a3a" stroke-width="1.2" fill="none"/>
<polygon points="182.00,177.60 185.51,184.08 178.49,184.08" fill="#e2302c"/>
<polygon points="188.84,181.80 192.36,188.28 185.33,188.28" fill="#e2302c"/>
<polygon points="195.69,186.80 199.20,193.28 192.17,193.28" fill="#e2302c"/>
<polygon points="209.38,193.90 212.89,200.38 205.86,200.38" fill="#e2302c"/>
<polygon points="236.75,202.20 240.26,208.68 233.24,208.68" fill="#e2302c"/>
<polygon points="291.50,203.90 295.01,210.38 287.99,210.38" fill="#e2302c"/>
<polyline points="182.00,162.00 188.84,160.00 195.69,160.00 209.38,162.80 236.75,166.00 291.50,166.00" fill="none" stroke="#0e8a84" stroke-width="1.4"/>
<path d="M182.00,158.00V166.00M178.80,158.00H185.20M178.80,166.00H185.20" stroke="#0e8a84" stroke-width="1.2" fill="none"/>
<path d="M188.84,155.00V165.00M185.64,155.00H192.04M185.64,165.00H192.04" stroke="#0e8a84" stroke-width="1.2" fill="none"/>
<path d="M195.69,155.00V166.00M192.49,155.00H198.89M192.49,166.00H198.89" stroke="#0e8a84" stroke-width="1.2" fill="none"/>
<path d="M209.38,158.00V177.00M206.18,158.00H212.57M206.18,177.00H212.57" stroke="#0e8a84" stroke-width="1.2" fill="none"/>
<path d="M236.75,160.00V173.40M233.55,160.00H239.95M233.55,173.40H239.95" stroke="#0e8a84" stroke-width="1.2" fill="none"/>
<path d="M291.50,160.00V174.90M288.30,160.00H294.70M288.30,174.90H294.70" stroke="#0e8a84" stroke-width="1.2" fill="none"/>
<circle cx="182.00" cy="162.00" r="2.85" fill="#0e8a84"/>
<circle cx="188.84" cy="160.00" r="2.85" fill="#0e8a84"/>
<circle cx="195.69" cy="160.00" r="2.85" fill="#0e8a84"/>
<circle cx="209.38" cy="162.80" r="2.85" fill="#0e8a84"/>
<circle cx="236.75" cy="166.00" r="2.85" fill="#0e8a84"/>
<circle cx="291.50" cy="166.00" r="2.85" fill="#0e8a84"/>
<polyline points="182.00,162.80 188.84,159.20 195.69,157.80 209.38,158.50 236.75,157.10 291.50,159.90" fill="none" stroke="#0e8a84" stroke-width="1.4" stroke-dasharray="4,2.6"/>
<path d="M182.00,159.00V166.00M178.80,159.00H185.20M178.80,166.00H185.20" stroke="#0e8a84" stroke-width="1.2" fill="none"/>
<path d="M188.84,152.00V165.00M185.64,152.00H192.04M185.64,165.00H192.04" stroke="#0e8a84" stroke-width="1.2" fill="none"/>
<path d="M195.69,152.00V166.30M192.49,152.00H198.89M192.49,166.30H198.89" stroke="#0e8a84" stroke-width="1.2" fill="none"/>
<path d="M209.38,155.00V163.00M206.18,155.00H212.57M206.18,163.00H212.57" stroke="#0e8a84" stroke-width="1.2" fill="none"/>
<path d="M236.75,152.80V163.50M233.55,152.80H239.95M233.55,163.50H239.95" stroke="#0e8a84" stroke-width="1.2" fill="none"/>
<path d="M291.50,156.40V164.00M288.30,156.40H294.70M288.30,164.00H294.70" stroke="#0e8a84" stroke-width="1.2" fill="none"/>
<circle cx="182.00" cy="162.80" r="2.9" fill="#eefbfa" stroke="#0e8a84" stroke-width="1.4"/>
<circle cx="188.84" cy="159.20" r="2.9" fill="#eefbfa" stroke="#0e8a84" stroke-width="1.4"/>
<circle cx="195.69" cy="157.80" r="2.9" fill="#eefbfa" stroke="#0e8a84" stroke-width="1.4"/>
<circle cx="209.38" cy="158.50" r="2.9" fill="#eefbfa" stroke="#0e8a84" stroke-width="1.4"/>
<circle cx="236.75" cy="157.10" r="2.9" fill="#eefbfa" stroke="#0e8a84" stroke-width="1.4"/>
<circle cx="291.50" cy="159.90" r="2.9" fill="#eefbfa" stroke="#0e8a84" stroke-width="1.4"/>
</g>
<clipPath id="cp12"><rect x="315.8" y="143.5" width="119.5" height="84.1"/></clipPath>
<path d="M321.80,149.50V227.60H429.30" stroke="#000" stroke-width="1.6" fill="none"/>
<path d="M321.80,227.60v2M343.30,227.60v2M364.80,227.60v2M386.30,227.60v2M407.80,227.60v2M429.30,227.60v2" stroke="#000" stroke-width="1.3"/>
<path d="M319.60,162.20h2.2M319.60,227.60h2.2" stroke="#000" stroke-width="1.2"/>
<text x="307.70" y="166.20" font-size="11.4" text-anchor="middle" fill="#222">100</text>
<text x="307.70" y="185.89" font-size="11.4" text-anchor="middle" fill="#222">50</text>
<text x="307.70" y="231.00" font-size="11.4" text-anchor="middle" fill="#222">10</text>
<text x="321.00" y="239.10" font-size="8.4" text-anchor="middle" fill="#222">0</text>
<text x="343.40" y="239.10" font-size="8.4" text-anchor="middle" fill="#222">10</text>
<text x="364.90" y="239.10" font-size="8.4" text-anchor="middle" fill="#222">20</text>
<text x="386.40" y="239.10" font-size="8.4" text-anchor="middle" fill="#222">30</text>
<text x="407.90" y="239.10" font-size="8.4" text-anchor="middle" fill="#222">40</text>
<text x="429.40" y="239.10" font-size="8.4" text-anchor="middle" fill="#222">50</text>
<g clip-path="url(#cp12)">
<polyline points="321.80,163.00 328.52,165.50 335.24,169.20 348.68,177.70 375.55,186.30 429.30,187.00" fill="none" stroke="#e2302c" stroke-width="1.4" stroke-dasharray="4,2.6"/>
<path d="M321.80,160.00V166.00M318.60,160.00H325.00M318.60,166.00H325.00" stroke="#d23a3a" stroke-width="1.2" fill="none"/>
<path d="M328.52,162.00V169.00M325.32,162.00H331.72M325.32,169.00H331.72" stroke="#d23a3a" stroke-width="1.2" fill="none"/>
<path d="M335.24,165.00V173.00M332.04,165.00H338.44M332.04,173.00H338.44" stroke="#d23a3a" stroke-width="1.2" fill="none"/>
<path d="M348.68,172.00V184.10M345.48,172.00H351.88M345.48,184.10H351.88" stroke="#d23a3a" stroke-width="1.2" fill="none"/>
<path d="M375.55,182.70V189.80M372.35,182.70H378.75M372.35,189.80H378.75" stroke="#d23a3a" stroke-width="1.2" fill="none"/>
<path d="M429.30,184.10V188.40M426.10,184.10H432.50M426.10,188.40H432.50" stroke="#d23a3a" stroke-width="1.2" fill="none"/>
<polygon points="321.80,159.70 324.94,165.47 318.67,165.47" fill="#fff4f0" stroke="#e2302c" stroke-width="1.1"/>
<polygon points="328.52,162.20 331.65,167.97 325.38,167.97" fill="#fff4f0" stroke="#e2302c" stroke-width="1.1"/>
<polygon points="335.24,165.90 338.37,171.67 332.10,171.67" fill="#fff4f0" stroke="#e2302c" stroke-width="1.1"/>
<polygon points="348.68,174.40 351.81,180.17 345.54,180.17" fill="#fff4f0" stroke="#e2302c" stroke-width="1.1"/>
<polygon points="375.55,183.00 378.69,188.78 372.42,188.78" fill="#fff4f0" stroke="#e2302c" stroke-width="1.1"/>
<polygon points="429.30,183.70 432.44,189.47 426.17,189.47" fill="#fff4f0" stroke="#e2302c" stroke-width="1.1"/>
<polyline points="321.80,201.20 328.52,211.90 335.24,218.30 348.68,219.70 375.55,226.80 429.30,245.00" fill="none" stroke="#e2302c" stroke-width="1.4"/>
<path d="M321.80,194.80V207.60M318.60,194.80H325.00M318.60,207.60H325.00" stroke="#d23a3a" stroke-width="1.2" fill="none"/>
<path d="M328.52,208.00V215.00M325.32,208.00H331.72M325.32,215.00H331.72" stroke="#d23a3a" stroke-width="1.2" fill="none"/>
<path d="M335.24,215.00V221.00M332.04,215.00H338.44M332.04,221.00H338.44" stroke="#d23a3a" stroke-width="1.2" fill="none"/>
<path d="M348.68,215.40V223.20M345.48,215.40H351.88M345.48,223.20H351.88" stroke="#d23a3a" stroke-width="1.2" fill="none"/>
<path d="M375.55,217.50V232.00M372.35,217.50H378.75M372.35,232.00H378.75" stroke="#d23a3a" stroke-width="1.2" fill="none"/>
<path d="" stroke="#d23a3a" stroke-width="1.2" fill="none"/>
<polygon points="321.80,197.50 325.31,203.97 318.29,203.97" fill="#e2302c"/>
<polygon points="328.52,208.20 332.03,214.68 325.00,214.68" fill="#e2302c"/>
<polygon points="335.24,214.60 338.75,221.08 331.72,221.08" fill="#e2302c"/>
<polygon points="348.68,216.00 352.19,222.47 345.16,222.47" fill="#e2302c"/>
<polygon points="375.55,223.10 379.06,229.58 372.04,229.58" fill="#e2302c"/>
<polygon points="429.30,241.30 432.81,247.78 425.79,247.78" fill="#e2302c"/>
<polyline points="321.80,164.90 328.52,166.30 335.24,166.30 348.68,172.00 375.55,173.40 429.30,173.20" fill="none" stroke="#0e8a84" stroke-width="1.4"/>
<path d="M321.80,161.00V168.00M318.60,161.00H325.00M318.60,168.00H325.00" stroke="#0e8a84" stroke-width="1.2" fill="none"/>
<path d="M328.52,161.00V172.00M325.32,161.00H331.72M325.32,172.00H331.72" stroke="#0e8a84" stroke-width="1.2" fill="none"/>
<path d="M335.24,161.00V177.70M332.04,161.00H338.44M332.04,177.70H338.44" stroke="#0e8a84" stroke-width="1.2" fill="none"/>
<path d="M348.68,165.60V177.70M345.48,165.60H351.88M345.48,177.70H351.88" stroke="#0e8a84" stroke-width="1.2" fill="none"/>
<path d="M375.55,166.30V180.60M372.35,166.30H378.75M372.35,180.60H378.75" stroke="#0e8a84" stroke-width="1.2" fill="none"/>
<path d="M429.30,166.30V180.60M426.10,166.30H432.50M426.10,180.60H432.50" stroke="#0e8a84" stroke-width="1.2" fill="none"/>
<circle cx="321.80" cy="164.90" r="2.85" fill="#0e8a84"/>
<circle cx="328.52" cy="166.30" r="2.85" fill="#0e8a84"/>
<circle cx="335.24" cy="166.30" r="2.85" fill="#0e8a84"/>
<circle cx="348.68" cy="172.00" r="2.85" fill="#0e8a84"/>
<circle cx="375.55" cy="173.40" r="2.85" fill="#0e8a84"/>
<circle cx="429.30" cy="173.20" r="2.85" fill="#0e8a84"/>
<polyline points="321.80,162.40 328.52,158.90 335.24,157.10 348.68,157.80 375.55,156.10 429.30,159.70" fill="none" stroke="#0e8a84" stroke-width="1.4" stroke-dasharray="4,2.6"/>
<path d="M321.80,159.00V166.00M318.60,159.00H325.00M318.60,166.00H325.00" stroke="#0e8a84" stroke-width="1.2" fill="none"/>
<path d="M328.52,155.00V163.00M325.32,155.00H331.72M325.32,163.00H331.72" stroke="#0e8a84" stroke-width="1.2" fill="none"/>
<path d="M335.24,151.40V162.00M332.04,151.40H338.44M332.04,162.00H338.44" stroke="#0e8a84" stroke-width="1.2" fill="none"/>
<path d="M348.68,154.00V162.00M345.48,154.00H351.88M345.48,162.00H351.88" stroke="#0e8a84" stroke-width="1.2" fill="none"/>
<path d="M375.55,152.00V161.00M372.35,152.00H378.75M372.35,161.00H378.75" stroke="#0e8a84" stroke-width="1.2" fill="none"/>
<path d="M429.30,155.70V165.60M426.10,155.70H432.50M426.10,165.60H432.50" stroke="#0e8a84" stroke-width="1.2" fill="none"/>
<circle cx="321.80" cy="162.40" r="2.9" fill="#eefbfa" stroke="#0e8a84" stroke-width="1.4"/>
<circle cx="328.52" cy="158.90" r="2.9" fill="#eefbfa" stroke="#0e8a84" stroke-width="1.4"/>
<circle cx="335.24" cy="157.10" r="2.9" fill="#eefbfa" stroke="#0e8a84" stroke-width="1.4"/>
<circle cx="348.68" cy="157.80" r="2.9" fill="#eefbfa" stroke="#0e8a84" stroke-width="1.4"/>
<circle cx="375.55" cy="156.10" r="2.9" fill="#eefbfa" stroke="#0e8a84" stroke-width="1.4"/>
<circle cx="429.30" cy="159.70" r="2.9" fill="#eefbfa" stroke="#0e8a84" stroke-width="1.4"/>
</g>
<text transform="translate(9.6,194.85) rotate(-90)" font-size="11.6" text-anchor="middle" fill="#222">Survival (%)</text>
<clipPath id="cp20"><rect x="35.7" y="242.0" width="121.3" height="83.80000000000001"/></clipPath>
<path d="M41.70,248.00V325.80H151.00" stroke="#000" stroke-width="1.6" fill="none"/>
<path d="M41.70,325.80v2M63.56,325.80v2M85.42,325.80v2M107.28,325.80v2M129.14,325.80v2M151.00,325.80v2" stroke="#000" stroke-width="1.3"/>
<path d="M39.50,260.80h2.2M39.50,325.80h2.2" stroke="#000" stroke-width="1.2"/>
<text x="29.30" y="264.80" font-size="11.4" text-anchor="middle" fill="#222">100</text>
<text x="29.30" y="284.37" font-size="11.4" text-anchor="middle" fill="#222">50</text>
<text x="29.30" y="329.20" font-size="11.4" text-anchor="middle" fill="#222">10</text>
<text x="39.80" y="339.80" font-size="11.4" text-anchor="middle" fill="#222">0</text>
<text x="63.36" y="339.80" font-size="11.4" text-anchor="middle" fill="#222">10</text>
<text x="85.22" y="339.80" font-size="11.4" text-anchor="middle" fill="#222">20</text>
<text x="107.08" y="339.80" font-size="11.4" text-anchor="middle" fill="#222">30</text>
<text x="128.94" y="339.80" font-size="11.4" text-anchor="middle" fill="#222">40</text>
<text x="150.80" y="339.80" font-size="11.4" text-anchor="middle" fill="#222">50</text>
<g clip-path="url(#cp20)">
<polyline points="41.70,261.00 48.53,263.60 55.36,266.50 69.03,276.40 96.35,284.30 151.00,285.70" fill="none" stroke="#e2302c" stroke-width="1.4" stroke-dasharray="4,2.6"/>
<path d="M41.70,258.00V264.00M38.50,258.00H44.90M38.50,264.00H44.90" stroke="#d23a3a" stroke-width="1.2" fill="none"/>
<path d="M48.53,260.00V267.00M45.33,260.00H51.73M45.33,267.00H51.73" stroke="#d23a3a" stroke-width="1.2" fill="none"/>
<path d="M55.36,262.00V271.00M52.16,262.00H58.56M52.16,271.00H58.56" stroke="#d23a3a" stroke-width="1.2" fill="none"/>
<path d="M69.03,270.00V282.80M65.83,270.00H72.23M65.83,282.80H72.23" stroke="#d23a3a" stroke-width="1.2" fill="none"/>
<path d="M96.35,280.70V290.00M93.15,280.70H99.55M93.15,290.00H99.55" stroke="#d23a3a" stroke-width="1.2" fill="none"/>
<path d="M151.00,282.80V288.20M147.80,282.80H154.20M147.80,288.20H154.20" stroke="#d23a3a" stroke-width="1.2" fill="none"/>
<polygon points="41.70,257.70 44.84,263.48 38.57,263.48" fill="#fff4f0" stroke="#e2302c" stroke-width="1.1"/>
<polygon points="48.53,260.30 51.67,266.08 45.40,266.08" fill="#fff4f0" stroke="#e2302c" stroke-width="1.1"/>
<polygon points="55.36,263.20 58.50,268.98 52.23,268.98" fill="#fff4f0" stroke="#e2302c" stroke-width="1.1"/>
<polygon points="69.03,273.10 72.16,278.88 65.89,278.88" fill="#fff4f0" stroke="#e2302c" stroke-width="1.1"/>
<polygon points="96.35,281.00 99.48,286.78 93.21,286.78" fill="#fff4f0" stroke="#e2302c" stroke-width="1.1"/>
<polygon points="151.00,282.40 154.13,288.18 147.87,288.18" fill="#fff4f0" stroke="#e2302c" stroke-width="1.1"/>
<polyline points="41.70,264.30 48.53,270.70 55.36,283.50 69.03,292.80 96.35,299.00 151.00,305.60" fill="none" stroke="#e2302c" stroke-width="1.4"/>
<path d="M41.70,261.00V274.30M38.50,261.00H44.90M38.50,274.30H44.90" stroke="#d23a3a" stroke-width="1.2" fill="none"/>
<path d="M48.53,265.80V285.40M45.33,265.80H51.73M45.33,285.40H51.73" stroke="#d23a3a" stroke-width="1.2" fill="none"/>
<path d="M55.36,271.40V296.30M52.16,271.40H58.56M52.16,296.30H58.56" stroke="#d23a3a" stroke-width="1.2" fill="none"/>
<path d="M69.03,283.50V305.20M65.83,283.50H72.23M65.83,305.20H72.23" stroke="#d23a3a" stroke-width="1.2" fill="none"/>
<path d="M96.35,291.40V307.00M93.15,291.40H99.55M93.15,307.00H99.55" stroke="#d23a3a" stroke-width="1.2" fill="none"/>
<path d="M151.00,297.80V314.80M147.80,297.80H154.20M147.80,314.80H154.20" stroke="#d23a3a" stroke-width="1.2" fill="none"/>
<polygon points="41.70,260.60 45.22,267.07 38.19,267.07" fill="#e2302c"/>
<polygon points="48.53,267.00 52.05,273.47 45.02,273.47" fill="#e2302c"/>
<polygon points="55.36,279.80 58.88,286.27 51.85,286.27" fill="#e2302c"/>
<polygon points="69.03,289.10 72.54,295.57 65.51,295.57" fill="#e2302c"/>
<polygon points="96.35,295.30 99.86,301.77 92.83,301.77" fill="#e2302c"/>
<polygon points="151.00,301.90 154.51,308.38 147.49,308.38" fill="#e2302c"/>
<polyline points="41.70,256.10 48.53,258.00 55.36,262.90 69.03,262.90 96.35,265.80 151.00,263.60" fill="none" stroke="#0e8a84" stroke-width="1.4"/>
<path d="M41.70,252.00V260.00M38.50,252.00H44.90M38.50,260.00H44.90" stroke="#0e8a84" stroke-width="1.2" fill="none"/>
<path d="M48.53,254.00V262.00M45.33,254.00H51.73M45.33,262.00H51.73" stroke="#0e8a84" stroke-width="1.2" fill="none"/>
<path d="M55.36,258.00V266.50M52.16,258.00H58.56M52.16,266.50H58.56" stroke="#0e8a84" stroke-width="1.2" fill="none"/>
<path d="M69.03,258.00V270.00M65.83,258.00H72.23M65.83,270.00H72.23" stroke="#0e8a84" stroke-width="1.2" fill="none"/>
<path d="M96.35,260.40V278.60M93.15,260.40H99.55M93.15,278.60H99.55" stroke="#0e8a84" stroke-width="1.2" fill="none"/>
<path d="M151.00,258.00V274.30M147.80,258.00H154.20M147.80,274.30H154.20" stroke="#0e8a84" stroke-width="1.2" fill="none"/>
<circle cx="41.70" cy="256.10" r="2.85" fill="#0e8a84"/>
<circle cx="48.53" cy="258.00" r="2.85" fill="#0e8a84"/>
<circle cx="55.36" cy="262.90" r="2.85" fill="#0e8a84"/>
<circle cx="69.03" cy="262.90" r="2.85" fill="#0e8a84"/>
<circle cx="96.35" cy="265.80" r="2.85" fill="#0e8a84"/>
<circle cx="151.00" cy="263.60" r="2.85" fill="#0e8a84"/>
<polyline points="41.70,260.80 48.53,257.20 55.36,256.50 69.03,256.90 96.35,255.30 151.00,258.60" fill="none" stroke="#0e8a84" stroke-width="1.4" stroke-dasharray="4,2.6"/>
<path d="M41.70,257.00V264.00M38.50,257.00H44.90M38.50,264.00H44.90" stroke="#0e8a84" stroke-width="1.2" fill="none"/>
<path d="M48.53,253.00V261.00M45.33,253.00H51.73M45.33,261.00H51.73" stroke="#0e8a84" stroke-width="1.2" fill="none"/>
<path d="M55.36,249.80V262.00M52.16,249.80H58.56M52.16,262.00H58.56" stroke="#0e8a84" stroke-width="1.2" fill="none"/>
<path d="M69.03,253.70V261.00M65.83,253.70H72.23M65.83,261.00H72.23" stroke="#0e8a84" stroke-width="1.2" fill="none"/>
<path d="M96.35,251.30V260.40M93.15,251.30H99.55M93.15,260.40H99.55" stroke="#0e8a84" stroke-width="1.2" fill="none"/>
<path d="M151.00,255.10V263.00M147.80,255.10H154.20M147.80,263.00H154.20" stroke="#0e8a84" stroke-width="1.2" fill="none"/>
<circle cx="41.70" cy="260.80" r="2.9" fill="#eefbfa" stroke="#0e8a84" stroke-width="1.4"/>
<circle cx="48.53" cy="257.20" r="2.9" fill="#eefbfa" stroke="#0e8a84" stroke-width="1.4"/>
<circle cx="55.36" cy="256.50" r="2.9" fill="#eefbfa" stroke="#0e8a84" stroke-width="1.4"/>
<circle cx="69.03" cy="256.90" r="2.9" fill="#eefbfa" stroke="#0e8a84" stroke-width="1.4"/>
<circle cx="96.35" cy="255.30" r="2.9" fill="#eefbfa" stroke="#0e8a84" stroke-width="1.4"/>
<circle cx="151.00" cy="258.60" r="2.9" fill="#eefbfa" stroke="#0e8a84" stroke-width="1.4"/>
</g>
<clipPath id="cp21"><rect x="176.0" y="242.0" width="121.5" height="83.80000000000001"/></clipPath>
<path d="M182.00,248.00V325.80H291.50" stroke="#000" stroke-width="1.6" fill="none"/>
<path d="M182.00,325.80v2M203.90,325.80v2M225.80,325.80v2M247.70,325.80v2M269.60,325.80v2M291.50,325.80v2" stroke="#000" stroke-width="1.3"/>
<path d="M179.80,260.80h2.2M179.80,325.80h2.2" stroke="#000" stroke-width="1.2"/>
<text x="169.70" y="264.80" font-size="11.4" text-anchor="middle" fill="#222">100</text>
<text x="169.70" y="284.37" font-size="11.4" text-anchor="middle" fill="#222">50</text>
<text x="169.70" y="329.20" font-size="11.4" text-anchor="middle" fill="#222">10</text>
<text x="180.10" y="339.80" font-size="11.4" text-anchor="middle" fill="#222">0</text>
<text x="203.70" y="339.80" font-size="11.4" text-anchor="middle" fill="#222">10</text>
<text x="225.60" y="339.80" font-size="11.4" text-anchor="middle" fill="#222">20</text>
<text x="247.50" y="339.80" font-size="11.4" text-anchor="middle" fill="#222">30</text>
<text x="269.40" y="339.80" font-size="11.4" text-anchor="middle" fill="#222">40</text>
<text x="291.30" y="339.80" font-size="11.4" text-anchor="middle" fill="#222">50</text>
<g clip-path="url(#cp21)">
<polyline points="182.00,261.00 188.84,264.30 195.69,267.90 209.38,276.90 236.75,284.50 291.50,285.70" fill="none" stroke="#e2302c" stroke-width="1.4" stroke-dasharray="4,2.6"/>
<path d="M182.00,258.00V264.00M178.80,258.00H185.20M178.80,264.00H185.20" stroke="#d23a3a" stroke-width="1.2" fill="none"/>
<path d="M188.84,261.00V268.00M185.64,261.00H192.04M185.64,268.00H192.04" stroke="#d23a3a" stroke-width="1.2" fill="none"/>
<path d="M195.69,263.00V272.00M192.49,263.00H198.89M192.49,272.00H198.89" stroke="#d23a3a" stroke-width="1.2" fill="none"/>
<path d="M209.38,271.00V282.80M206.18,271.00H212.57M206.18,282.80H212.57" stroke="#d23a3a" stroke-width="1.2" fill="none"/>
<path d="M236.75,281.40V288.50M233.55,281.40H239.95M233.55,288.50H239.95" stroke="#d23a3a" stroke-width="1.2" fill="none"/>
<path d="M291.50,282.60V288.20M288.30,282.60H294.70M288.30,288.20H294.70" stroke="#d23a3a" stroke-width="1.2" fill="none"/>
<polygon points="182.00,257.70 185.13,263.48 178.87,263.48" fill="#fff4f0" stroke="#e2302c" stroke-width="1.1"/>
<polygon points="188.84,261.00 191.98,266.78 185.71,266.78" fill="#fff4f0" stroke="#e2302c" stroke-width="1.1"/>
<polygon points="195.69,264.60 198.82,270.38 192.55,270.38" fill="#fff4f0" stroke="#e2302c" stroke-width="1.1"/>
<polygon points="209.38,273.60 212.51,279.38 206.24,279.38" fill="#fff4f0" stroke="#e2302c" stroke-width="1.1"/>
<polygon points="236.75,281.20 239.88,286.98 233.62,286.98" fill="#fff4f0" stroke="#e2302c" stroke-width="1.1"/>
<polygon points="291.50,282.40 294.63,288.18 288.37,288.18" fill="#fff4f0" stroke="#e2302c" stroke-width="1.1"/>
<polyline points="182.00,267.90 188.84,287.80 195.69,296.80 209.38,307.70 236.75,317.00 291.50,325.50" fill="none" stroke="#e2302c" stroke-width="1.4"/>
<path d="M182.00,264.00V281.40M178.80,264.00H185.20M178.80,281.40H185.20" stroke="#d23a3a" stroke-width="1.2" fill="none"/>
<path d="M188.84,279.30V299.90M185.64,279.30H192.04M185.64,299.90H192.04" stroke="#d23a3a" stroke-width="1.2" fill="none"/>
<path d="M195.69,287.10V310.60M192.49,287.10H198.89M192.49,310.60H198.89" stroke="#d23a3a" stroke-width="1.2" fill="none"/>
<path d="M209.38,303.50V312.70M206.18,303.50H212.57M206.18,312.70H212.57" stroke="#d23a3a" stroke-width="1.2" fill="none"/>
<path d="M236.75,313.40V320.50M233.55,313.40H239.95M233.55,320.50H239.95" stroke="#d23a3a" stroke-width="1.2" fill="none"/>
<path d="M291.50,315.50V325.50M288.30,315.50H294.70" stroke="#d23a3a" stroke-width="1.2" fill="none"/>
<polygon points="182.00,264.20 185.51,270.67 178.49,270.67" fill="#e2302c"/>
<polygon points="188.84,284.10 192.36,290.57 185.33,290.57" fill="#e2302c"/>
<polygon points="195.69,293.10 199.20,299.57 192.17,299.57" fill="#e2302c"/>
<polygon points="209.38,304.00 212.89,310.47 205.86,310.47" fill="#e2302c"/>
<polygon points="236.75,313.30 240.26,319.77 233.24,319.77" fill="#e2302c"/>
<polygon points="291.50,321.80 295.01,328.27 287.99,328.27" fill="#e2302c"/>
<polyline points="182.00,260.00 188.84,263.60 195.69,269.30 209.38,268.30 236.75,272.20 291.50,273.20" fill="none" stroke="#0e8a84" stroke-width="1.4"/>
<path d="M182.00,256.00V264.00M178.80,256.00H185.20M178.80,264.00H185.20" stroke="#0e8a84" stroke-width="1.2" fill="none"/>
<path d="M188.84,258.00V277.10M185.64,258.00H192.04M185.64,277.10H192.04" stroke="#0e8a84" stroke-width="1.2" fill="none"/>
<path d="M195.69,258.00V285.70M192.49,258.00H198.89M192.49,285.70H198.89" stroke="#0e8a84" stroke-width="1.2" fill="none"/>
<path d="M209.38,262.90V274.00M206.18,262.90H212.57M206.18,274.00H212.57" stroke="#0e8a84" stroke-width="1.2" fill="none"/>
<path d="M236.75,266.50V278.60M233.55,266.50H239.95M233.55,278.60H239.95" stroke="#0e8a84" stroke-width="1.2" fill="none"/>
<path d="M291.50,264.30V284.30M288.30,264.30H294.70M288.30,284.30H294.70" stroke="#0e8a84" stroke-width="1.2" fill="none"/>
<circle cx="182.00" cy="260.00" r="2.85" fill="#0e8a84"/>
<circle cx="188.84" cy="263.60" r="2.85" fill="#0e8a84"/>
<circle cx="195.69" cy="269.30" r="2.85" fill="#0e8a84"/>
<circle cx="209.38" cy="268.30" r="2.85" fill="#0e8a84"/>
<circle cx="236.75" cy="272.20" r="2.85" fill="#0e8a84"/>
<circle cx="291.50" cy="273.20" r="2.85" fill="#0e8a84"/>
<polyline points="182.00,260.80 188.84,257.50 195.69,255.80 209.38,256.90 236.75,255.10 291.50,258.60" fill="none" stroke="#0e8a84" stroke-width="1.4" stroke-dasharray="4,2.6"/>
<path d="M182.00,257.00V264.00M178.80,257.00H185.20M178.80,264.00H185.20" stroke="#0e8a84" stroke-width="1.2" fill="none"/>
<path d="M188.84,253.00V262.00M185.64,253.00H192.04M185.64,262.00H192.04" stroke="#0e8a84" stroke-width="1.2" fill="none"/>
<path d="M195.69,249.80V262.00M192.49,249.80H198.89M192.49,262.00H198.89" stroke="#0e8a84" stroke-width="1.2" fill="none"/>
<path d="M209.38,253.00V261.00M206.18,253.00H212.57M206.18,261.00H212.57" stroke="#0e8a84" stroke-width="1.2" fill="none"/>
<path d="M236.75,251.30V260.00M233.55,251.30H239.95M233.55,260.00H239.95" stroke="#0e8a84" stroke-width="1.2" fill="none"/>
<path d="M291.50,255.10V264.30M288.30,255.10H294.70M288.30,264.30H294.70" stroke="#0e8a84" stroke-width="1.2" fill="none"/>
<circle cx="182.00" cy="260.80" r="2.9" fill="#eefbfa" stroke="#0e8a84" stroke-width="1.4"/>
<circle cx="188.84" cy="257.50" r="2.9" fill="#eefbfa" stroke="#0e8a84" stroke-width="1.4"/>
<circle cx="195.69" cy="255.80" r="2.9" fill="#eefbfa" stroke="#0e8a84" stroke-width="1.4"/>
<circle cx="209.38" cy="256.90" r="2.9" fill="#eefbfa" stroke="#0e8a84" stroke-width="1.4"/>
<circle cx="236.75" cy="255.10" r="2.9" fill="#eefbfa" stroke="#0e8a84" stroke-width="1.4"/>
<circle cx="291.50" cy="258.60" r="2.9" fill="#eefbfa" stroke="#0e8a84" stroke-width="1.4"/>
</g>
<clipPath id="cp22"><rect x="315.8" y="242.0" width="119.5" height="83.80000000000001"/></clipPath>
<path d="M321.80,248.00V325.80H429.30" stroke="#000" stroke-width="1.6" fill="none"/>
<path d="M321.80,325.80v2M343.30,325.80v2M364.80,325.80v2M386.30,325.80v2M407.80,325.80v2M429.30,325.80v2" stroke="#000" stroke-width="1.3"/>
<path d="M319.60,260.80h2.2M319.60,325.80h2.2" stroke="#000" stroke-width="1.2"/>
<text x="307.70" y="264.80" font-size="11.4" text-anchor="middle" fill="#222">100</text>
<text x="307.70" y="284.37" font-size="11.4" text-anchor="middle" fill="#222">50</text>
<text x="307.70" y="329.20" font-size="11.4" text-anchor="middle" fill="#222">10</text>
<text x="319.90" y="339.80" font-size="11.4" text-anchor="middle" fill="#222">0</text>
<text x="343.10" y="339.80" font-size="11.4" text-anchor="middle" fill="#222">10</text>
<text x="364.60" y="339.80" font-size="11.4" text-anchor="middle" fill="#222">20</text>
<text x="386.10" y="339.80" font-size="11.4" text-anchor="middle" fill="#222">30</text>
<text x="407.60" y="339.80" font-size="11.4" text-anchor="middle" fill="#222">40</text>
<text x="429.10" y="339.80" font-size="11.4" text-anchor="middle" fill="#222">50</text>
<g clip-path="url(#cp22)">
<polyline points="321.80,261.50 328.52,265.80 335.24,268.60 348.68,277.90 375.55,284.70 429.30,285.70" fill="none" stroke="#e2302c" stroke-width="1.4" stroke-dasharray="4,2.6"/>
<path d="M321.80,258.00V265.00M318.60,258.00H325.00M318.60,265.00H325.00" stroke="#d23a3a" stroke-width="1.2" fill="none"/>
<path d="M328.52,262.00V270.00M325.32,262.00H331.72M325.32,270.00H331.72" stroke="#d23a3a" stroke-width="1.2" fill="none"/>
<path d="M335.24,264.00V273.00M332.04,264.00H338.44M332.04,273.00H338.44" stroke="#d23a3a" stroke-width="1.2" fill="none"/>
<path d="M348.68,270.70V284.30M345.48,270.70H351.88M345.48,284.30H351.88" stroke="#d23a3a" stroke-width="1.2" fill="none"/>
<path d="M375.55,281.50V289.20M372.35,281.50H378.75M372.35,289.20H378.75" stroke="#d23a3a" stroke-width="1.2" fill="none"/>
<path d="M429.30,283.50V288.50M426.10,283.50H432.50M426.10,288.50H432.50" stroke="#d23a3a" stroke-width="1.2" fill="none"/>
<polygon points="321.80,258.20 324.94,263.98 318.67,263.98" fill="#fff4f0" stroke="#e2302c" stroke-width="1.1"/>
<polygon points="328.52,262.50 331.65,268.28 325.38,268.28" fill="#fff4f0" stroke="#e2302c" stroke-width="1.1"/>
<polygon points="335.24,265.30 338.37,271.08 332.10,271.08" fill="#fff4f0" stroke="#e2302c" stroke-width="1.1"/>
<polygon points="348.68,274.60 351.81,280.38 345.54,280.38" fill="#fff4f0" stroke="#e2302c" stroke-width="1.1"/>
<polygon points="375.55,281.40 378.69,287.18 372.42,287.18" fill="#fff4f0" stroke="#e2302c" stroke-width="1.1"/>
<polygon points="429.30,282.40 432.44,288.18 426.17,288.18" fill="#fff4f0" stroke="#e2302c" stroke-width="1.1"/>
<polyline points="321.80,292.10 328.52,324.10" fill="none" stroke="#e2302c" stroke-width="1.4"/>
<path d="M321.80,285.70V299.90M318.60,285.70H325.00M318.60,299.90H325.00" stroke="#d23a3a" stroke-width="1.2" fill="none"/>
<path d="M328.52,317.00V324.10M325.32,317.00H331.72" stroke="#d23a3a" stroke-width="1.2" fill="none"/>
<polygon points="321.80,288.40 325.31,294.88 318.29,294.88" fill="#e2302c"/>
<polygon points="328.52,320.40 332.03,326.88 325.00,326.88" fill="#e2302c"/>
<polyline points="321.80,267.90 328.52,272.20 335.24,275.70 348.68,277.40 375.55,280.30 429.30,279.70" fill="none" stroke="#0e8a84" stroke-width="1.4"/>
<path d="M321.80,263.00V276.40M318.60,263.00H325.00M318.60,276.40H325.00" stroke="#0e8a84" stroke-width="1.2" fill="none"/>
<path d="M328.52,266.00V281.40M325.32,266.00H331.72M325.32,281.40H331.72" stroke="#0e8a84" stroke-width="1.2" fill="none"/>
<path d="M335.24,268.00V284.30M332.04,268.00H338.44M332.04,284.30H338.44" stroke="#0e8a84" stroke-width="1.2" fill="none"/>
<path d="M348.68,272.00V282.00M345.48,272.00H351.88M345.48,282.00H351.88" stroke="#0e8a84" stroke-width="1.2" fill="none"/>
<path d="M375.55,277.00V284.00M372.35,277.00H378.75M372.35,284.00H378.75" stroke="#0e8a84" stroke-width="1.2" fill="none"/>
<path d="M429.30,273.20V284.00M426.10,273.20H432.50M426.10,284.00H432.50" stroke="#0e8a84" stroke-width="1.2" fill="none"/>
<circle cx="321.80" cy="267.90" r="2.85" fill="#0e8a84"/>
<circle cx="328.52" cy="272.20" r="2.85" fill="#0e8a84"/>
<circle cx="335.24" cy="275.70" r="2.85" fill="#0e8a84"/>
<circle cx="348.68" cy="277.40" r="2.85" fill="#0e8a84"/>
<circle cx="375.55" cy="280.30" r="2.85" fill="#0e8a84"/>
<circle cx="429.30" cy="279.70" r="2.85" fill="#0e8a84"/>
<polyline points="321.80,262.20 328.52,258.90 335.24,257.20 348.68,258.40 375.55,256.90 429.30,260.10" fill="none" stroke="#0e8a84" stroke-width="1.4" stroke-dasharray="4,2.6"/>
<path d="M321.80,258.00V266.00M318.60,258.00H325.00M318.60,266.00H325.00" stroke="#0e8a84" stroke-width="1.2" fill="none"/>
<path d="M328.52,255.00V263.00M325.32,255.00H331.72M325.32,263.00H331.72" stroke="#0e8a84" stroke-width="1.2" fill="none"/>
<path d="M335.24,251.50V262.00M332.04,251.50H338.44M332.04,262.00H338.44" stroke="#0e8a84" stroke-width="1.2" fill="none"/>
<path d="M348.68,255.10V262.20M345.48,255.10H351.88M345.48,262.20H351.88" stroke="#0e8a84" stroke-width="1.2" fill="none"/>
<path d="M375.55,253.20V261.20M372.35,253.20H378.75M372.35,261.20H378.75" stroke="#0e8a84" stroke-width="1.2" fill="none"/>
<path d="M429.30,256.50V264.30M426.10,256.50H432.50M426.10,264.30H432.50" stroke="#0e8a84" stroke-width="1.2" fill="none"/>
<circle cx="321.80" cy="262.20" r="2.9" fill="#eefbfa" stroke="#0e8a84" stroke-width="1.4"/>
<circle cx="328.52" cy="258.90" r="2.9" fill="#eefbfa" stroke="#0e8a84" stroke-width="1.4"/>
<circle cx="335.24" cy="257.20" r="2.9" fill="#eefbfa" stroke="#0e8a84" stroke-width="1.4"/>
<circle cx="348.68" cy="258.40" r="2.9" fill="#eefbfa" stroke="#0e8a84" stroke-width="1.4"/>
<circle cx="375.55" cy="256.90" r="2.9" fill="#eefbfa" stroke="#0e8a84" stroke-width="1.4"/>
<circle cx="429.30" cy="260.10" r="2.9" fill="#eefbfa" stroke="#0e8a84" stroke-width="1.4"/>
</g>
<text transform="translate(9.6,294.85) rotate(-90)" font-size="11.6" text-anchor="middle" fill="#222">Survival (%)</text>
<text x="100.45" y="357" font-size="11.4" text-anchor="middle" fill="#222">Olaparib (nmol/L)</text>
<text x="241.4" y="357" font-size="11.4" text-anchor="middle" fill="#222">Olaparib (nmol/L)</text>
<text x="381.4" y="357" font-size="11.4" text-anchor="middle" fill="#222">Olaparib (nmol/L)</text>
<rect x="12.8" y="369.7" width="425.60" height="17.90" fill="#f0f0f0" stroke="#666" stroke-width="1.5"/>
<rect x="14.15" y="371.05" width="422.90" height="15.20" fill="none" stroke="#fff" stroke-width="1"/>
<line x1="12.8" y1="388.1" x2="438.4" y2="388.1" stroke="#777" stroke-width="0.8"/>
<circle cx="22.9" cy="378.4" r="4.5" fill="#e2f7f5" stroke="#2a7d77" stroke-width="1.1"/>
<text x="32.6" y="381.6" font-size="11.3" fill="#222">WT no LMP</text>
<circle cx="117.5" cy="378.4" r="4.6" fill="#0e8a84"/>
<text x="127" y="381.6" font-size="11.3" fill="#222">WT with LMP</text>
<path d="M218.5,373.4L222.7,381.5H214.3Z M213.3,377.5H216.4 M220.6,377.5H223.7" fill="#fdf3f3" stroke="#b2403e" stroke-width="1.1"/>
<text x="228.3" y="381.6" font-size="11.3" fill="#222">BRCA1 no LMP</text>
<path d="M336.5,373.6L340.3,381.6H332.7Z" fill="#e2302c" stroke="#c8282a" stroke-width="0.6"/>
<path d="M331.5,377.4H341.7" stroke="#d02a2a" stroke-width="1.4"/>
<text x="348.5" y="381.6" font-size="11.3" fill="#222">BRCA1 with LMP</text>
<text x="5.8" y="416.3" font-size="16" font-weight="bold" fill="#111">B</text>
<rect x="58.9" y="408.5" width="136.60" height="14.90" fill="#eeefee" stroke="#4a4a4a" stroke-width="1.2"/>
<rect x="60.10" y="409.70" width="134.20" height="12.50" fill="none" stroke="#fff" stroke-width="1"/>
<text x="130.00" y="420" font-size="10.9" text-anchor="middle" fill="#222">WT</text>
<rect x="58.9" y="474.94" width="136.60" height="11.64" fill="#fde2c6"/>
<rect x="58.9" y="486.58" width="136.60" height="31.04" fill="#fbc790"/>
<rect x="58.9" y="517.62" width="136.60" height="15.52" fill="#f8aa5c"/>
<rect x="58.9" y="533.14" width="136.60" height="7.76" fill="#f49126"/>
<line x1="195.00" y1="486.58" x2="195.00" y2="540.90" stroke="#8a5a2a" stroke-width="0.8" stroke-dasharray="2,1.5"/>
<line x1="58.9" y1="463.30" x2="195.5" y2="463.30" stroke="#3a3a3a" stroke-width="1.2"/>
<line x1="58.9" y1="474.94" x2="195.5" y2="474.94" stroke="#5a5a5a" stroke-width="1.3" stroke-dasharray="5,2.6"/>
<line x1="58.9" y1="486.58" x2="195.5" y2="486.58" stroke="#4a3520" stroke-width="1.1" stroke-dasharray="3,1.6"/>
<line x1="58.9" y1="517.62" x2="195.5" y2="517.62" stroke="#4a3018" stroke-width="1.3" stroke-dasharray="6,2,1.5,2"/>
<line x1="58.9" y1="533.14" x2="195.5" y2="533.14" stroke="#3a2510" stroke-width="1.3" stroke-dasharray="6,1.5,1.5,1.5"/>
<line x1="58.9" y1="540.90" x2="195.5" y2="540.90" stroke="#5a3510" stroke-width="1.3"/>
<line x1="58.9" y1="424.50" x2="58.9" y2="541.90" stroke="#333" stroke-width="1.1"/>
<path d="M55.90,540.90h3M55.90,502.10h3M55.90,463.30h3M55.90,424.50h3" stroke="#333" stroke-width="1"/>
<text x="52.10" y="544.65" font-size="10.4" text-anchor="end" fill="#333">0</text>
<text x="52.10" y="505.85" font-size="10.4" text-anchor="end" fill="#333">0.5</text>
<text x="52.10" y="467.05" font-size="10.4" text-anchor="end" fill="#333">1</text>
<text x="52.10" y="428.25" font-size="10.4" text-anchor="end" fill="#333">1.5</text>
<path d="M58.90,540.90v3M127.20,540.90v3M195.50,540.90v3" stroke="#333" stroke-width="1"/>
<text x="59.80" y="555" font-size="10.4" text-anchor="middle" fill="#333">0</text>
<text x="128.10" y="555" font-size="10.4" text-anchor="middle" fill="#333">0.5</text>
<text x="196.40" y="555" font-size="10.4" text-anchor="middle" fill="#333">1</text>
<text x="132.90" y="568.3" font-size="11.35" text-anchor="middle" fill="#222">Fraction affected (Fa)</text>
<rect x="226.5" y="408.5" width="136.70" height="14.90" fill="#eeefee" stroke="#4a4a4a" stroke-width="1.2"/>
<rect x="227.70" y="409.70" width="134.30" height="12.50" fill="none" stroke="#fff" stroke-width="1"/>
<text x="299.60" y="420" font-size="10.9" text-anchor="middle" fill="#222">BRCA1</text>
<rect x="226.5" y="474.94" width="136.70" height="11.64" fill="#fde2c6"/>
<rect x="226.5" y="486.58" width="136.70" height="31.04" fill="#fbc790"/>
<rect x="226.5" y="517.62" width="136.70" height="15.52" fill="#f8aa5c"/>
<rect x="226.5" y="533.14" width="136.70" height="7.76" fill="#f49126"/>
<line x1="362.70" y1="486.58" x2="362.70" y2="540.90" stroke="#8a5a2a" stroke-width="0.8" stroke-dasharray="2,1.5"/>
<line x1="226.5" y1="463.30" x2="363.2" y2="463.30" stroke="#3a3a3a" stroke-width="1.2"/>
<line x1="226.5" y1="474.94" x2="363.2" y2="474.94" stroke="#5a5a5a" stroke-width="1.3" stroke-dasharray="5,2.6"/>
<line x1="226.5" y1="486.58" x2="363.2" y2="486.58" stroke="#4a3520" stroke-width="1.1" stroke-dasharray="3,1.6"/>
<line x1="226.5" y1="517.62" x2="363.2" y2="517.62" stroke="#4a3018" stroke-width="1.3" stroke-dasharray="6,2,1.5,2"/>
<line x1="226.5" y1="533.14" x2="363.2" y2="533.14" stroke="#3a2510" stroke-width="1.3" stroke-dasharray="6,1.5,1.5,1.5"/>
<line x1="226.5" y1="540.90" x2="363.2" y2="540.90" stroke="#5a3510" stroke-width="1.3"/>
<line x1="226.5" y1="424.50" x2="226.5" y2="541.90" stroke="#333" stroke-width="1.1"/>
<path d="M223.50,540.90h3M223.50,502.10h3M223.50,463.30h3M223.50,424.50h3" stroke="#333" stroke-width="1"/>
<text x="219.70" y="544.65" font-size="10.4" text-anchor="end" fill="#333">0</text>
<text x="219.70" y="505.85" font-size="10.4" text-anchor="end" fill="#333">0.5</text>
<text x="219.70" y="467.05" font-size="10.4" text-anchor="end" fill="#333">1</text>
<text x="219.70" y="428.25" font-size="10.4" text-anchor="end" fill="#333">1.5</text>
<path d="M226.50,540.90v3M294.85,540.90v3M363.20,540.90v3" stroke="#333" stroke-width="1"/>
<text x="227.40" y="555" font-size="10.4" text-anchor="middle" fill="#333">0</text>
<text x="295.75" y="555" font-size="10.4" text-anchor="middle" fill="#333">0.5</text>
<text x="364.10" y="555" font-size="10.4" text-anchor="middle" fill="#333">1</text>
<text x="300.55" y="568.3" font-size="11.35" text-anchor="middle" fill="#222">Fraction affected (Fa)</text>
<text transform="translate(29.6,486.85) rotate(-90)" font-size="11.4" text-anchor="middle" fill="#222">Combination index</text>
<polygon points="79.1,510.49999999999994 83.66,518.76 74.54,518.76" fill="#000"/>
<polygon points="92.3,512.6 96.86,520.86 87.74,520.86" fill="#000"/>
<polygon points="99.4,504.2 103.96,512.46 94.84,512.46" fill="#000"/>
<polygon points="129,517.6 133.56,525.86 124.44,525.86" fill="#000"/>
<polygon points="162.3,527.1 166.86,535.36 157.74,535.36" fill="#000"/>
<rect x="84.3" y="462.90000000000003" width="8.4" height="8.4" fill="#fff" stroke="#111" stroke-width="1.2"/>
<rect x="77.6" y="487.40000000000003" width="8.4" height="8.4" fill="#fff" stroke="#111" stroke-width="1.2"/>
<rect x="115.3" y="481.8" width="8.4" height="8.4" fill="#fff" stroke="#111" stroke-width="1.2"/>
<rect x="69.6" y="497.90000000000003" width="8.4" height="8.4" fill="#fff" stroke="#111" stroke-width="1.2"/>
<rect x="70.7" y="518.4" width="8.4" height="8.4" fill="#fff" stroke="#111" stroke-width="1.2"/>
<circle cx="79.7" cy="433.2" r="4.4" fill="#fff" stroke="#111" stroke-width="1.2"/>
<circle cx="75.9" cy="486.6" r="4.4" fill="#fff" stroke="#111" stroke-width="1.2"/>
<circle cx="86.8" cy="527.2" r="4.4" fill="#fff" stroke="#111" stroke-width="1.2"/>
<circle cx="109" cy="514.7" r="4.4" fill="#fff" stroke="#111" stroke-width="1.2"/>
<circle cx="125.8" cy="519.5" r="4.4" fill="#fff" stroke="#111" stroke-width="1.2"/>
<polygon points="278.5,479.4 283.06,487.66 273.94,487.66" fill="#000"/>
<polygon points="309.8,498.9 314.36,507.16 305.24,507.16" fill="#000"/>
<polygon points="334.5,508.90000000000003 339.06,517.16 329.94,517.16" fill="#000"/>
<polygon points="351,519.3000000000001 355.56,527.56 346.44,527.56" fill="#000"/>
<polygon points="360.5,530.0 365.06,538.26 355.94,538.26" fill="#000"/>
<rect x="265.1" y="468.40000000000003" width="8.4" height="8.4" fill="#fff" stroke="#111" stroke-width="1.2"/>
<rect x="296.90000000000003" y="493.40000000000003" width="8.4" height="8.4" fill="#fff" stroke="#111" stroke-width="1.2"/>
<rect x="317.0" y="489.90000000000003" width="8.4" height="8.4" fill="#fff" stroke="#111" stroke-width="1.2"/>
<rect x="337.2" y="491.1" width="8.4" height="8.4" fill="#fff" stroke="#111" stroke-width="1.2"/>
<rect x="352.8" y="501.2" width="8.4" height="8.4" fill="#fff" stroke="#111" stroke-width="1.2"/>
<circle cx="283.6" cy="465.4" r="4.4" fill="#fff" stroke="#111" stroke-width="1.2"/>
<circle cx="271.2" cy="482.9" r="4.4" fill="#fff" stroke="#111" stroke-width="1.2"/>
<circle cx="322.9" cy="499.3" r="4.4" fill="#fff" stroke="#111" stroke-width="1.2"/>
<circle cx="345.4" cy="512.3" r="4.4" fill="#fff" stroke="#111" stroke-width="1.2"/>
<circle cx="357.5" cy="524.1" r="4.4" fill="#fff" stroke="#111" stroke-width="1.2"/>
<path d="M364.8,425.7H372.9V459.4H364.8" stroke="#6aa592" stroke-width="1.05" fill="none"/>
<text x="379.4" y="446.10" font-size="11.5" fill="#222">Antagonism</text>
<path d="M364.8,463.5H372.9V472.5H364.8" stroke="#6aa592" stroke-width="1.05" fill="none"/>
<text x="379.4" y="471.30" font-size="11.5" fill="#222">Additive effect</text>
<path d="M364.8,475.6H372.9V484.8H364.8" stroke="#6aa592" stroke-width="1.05" fill="none"/>
<text x="379.4" y="484.60" font-size="11.5" fill="#222">Moderate synergism</text>
<path d="M364.8,487.3H372.9V514.8H364.8" stroke="#6aa592" stroke-width="1.05" fill="none"/>
<text x="379.4" y="505.50" font-size="11.5" fill="#222">Synergism</text>
<path d="M364.8,518.4H372.9V530H364.8" stroke="#6aa592" stroke-width="1.05" fill="none"/>
<text x="379.4" y="527.00" font-size="11.5" fill="#222">Strong synergism</text>
<path d="M364.8,532.6H372.9V539.3H364.8" stroke="#6aa592" stroke-width="1.05" fill="none"/>
<text x="379.4" y="539.30" font-size="11.5" fill="#222">Very strong synergism</text>
<rect x="12.9" y="578.4" width="425.40" height="17.90" fill="#f0f0f0" stroke="#666" stroke-width="1.5"/>
<rect x="14.25" y="579.75" width="422.70" height="15.20" fill="none" stroke="#fff" stroke-width="1"/>
<circle cx="46.8" cy="588" r="4.8" fill="#fff" stroke="#111" stroke-width="1.3"/>
<text x="58.3" y="591.6" font-size="11.4" fill="#222">LMP400 + olaparib</text>
<rect x="187.1" y="583.4" width="8.6" height="8.6" fill="#fff" stroke="#111" stroke-width="1.2"/>
<text x="202.5" y="591.6" font-size="11.4" fill="#222">LMP744 + olaparib</text>
<polygon points="321.2,583 326,592 316.4,592" fill="#000"/>
<text x="331.3" y="591.6" font-size="11.4" fill="#222">LMP776 + olaparib</text>
</svg>
</body></html>
